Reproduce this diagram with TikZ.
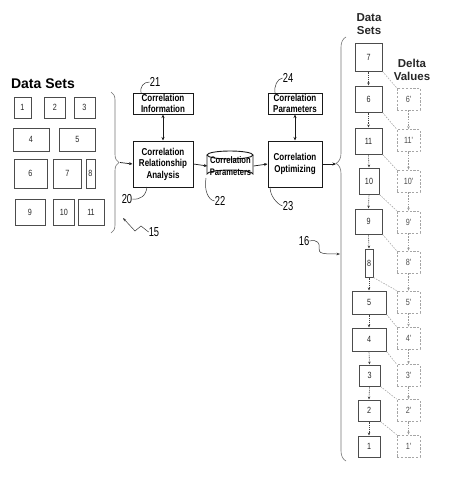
\documentclass[tikz,border=0pt]{standalone}
\usepackage{fontspec}
\setmainfont{Liberation Sans}
\newfontfamily\narfont[FakeStretch=0.72]{Liberation Sans}
\newfontfamily\digfont[FakeStretch=0.8]{Liberation Sans}
\newfontfamily\condfont[FakeStretch=0.8]{Liberation Sans}
\usetikzlibrary{decorations.pathreplacing,arrows.meta}
\tikzset{
  lset/.style={draw=black!70, line width=0.9pt, inner sep=0pt, font=\digfont\fontsize{9}{9}\selectfont, text=black!85},
  dset/.style={draw=black!70, line width=1pt, inner sep=0pt, font=\digfont\fontsize{9}{9}\selectfont, text=black!85},
  dval/.style={draw=black!35, line width=0.8pt, dash pattern=on 2.2pt off 1.6pt, inner sep=0pt, minimum width=23pt, minimum height=22pt, font=\digfont\fontsize{9}{9}\selectfont, text=black!70},
  proc/.style={draw=black!90, line width=1pt, inner sep=0pt, align=center, font=\condfont\bfseries\fontsize{10}{11.5}\selectfont},
  reflbl/.style={font=\narfont\fontsize{13}{13}\selectfont, inner sep=0pt},
  ttl/.style={font=\bfseries\fontsize{11.5}{13}\selectfont, align=center, inner sep=0pt, text=black!85},
  conn/.style={line width=0.7pt, draw=black!90, -{Stealth[length=3.5pt,width=3pt]}},
  bconn/.style={line width=0.7pt, draw=black!90, {Stealth[length=3.5pt,width=3pt]}-{Stealth[length=3.5pt,width=3pt]}},
  vconn/.style={line width=0.6pt, draw=black!75, dash pattern=on 1pt off 0.8pt, -{Stealth[length=3pt,width=2.6pt]}},
  wconn/.style={line width=0.6pt, draw=black!40, dash pattern=on 1.6pt off 1.2pt, -{Stealth[length=3pt,width=2.6pt]}},
  diag/.style={line width=0.5pt, draw=black!40, dash pattern=on 1.6pt off 1.2pt},
  lead/.style={line width=0.5pt, draw=black!80},
  bracestyle/.style={line width=0.6pt, draw=black!55, decorate}
}
\begin{document}
\begin{tikzpicture}[x=1pt,y=-1pt]
\useasboundingbox (0,0) rectangle (474,477);

% left data sets
\node[font=\bfseries\fontsize{14}{14}\selectfont, inner sep=0pt] (ltitle) at (43,84) {Data Sets};
\node[lset, minimum width=17pt, minimum height=21pt] (a1) at (22.5,107.5) {1};
\node[lset, minimum width=21pt, minimum height=21pt] (a2) at (55,107.5) {2};
\node[lset, minimum width=21pt, minimum height=21pt] (a3) at (84.5,107.5) {3};
\node[lset, minimum width=36pt, minimum height=23pt] (a4) at (31,139.5) {4};
\node[lset, minimum width=36pt, minimum height=23pt] (a5) at (77.5,139.5) {5};
\node[lset, minimum width=33pt, minimum height=29pt] (a6) at (30.5,173.5) {6};
\node[lset, minimum width=28pt, minimum height=29pt] (a7) at (67.5,173.5) {7};
\node[lset, minimum width=9pt, minimum height=29pt] (a8) at (90.5,173.5) {8};
\node[lset, minimum width=30pt, minimum height=26pt] (a9) at (30,212) {9};
\node[lset, minimum width=21pt, minimum height=26pt] (a10) at (64,212) {10};
\node[lset, minimum width=26pt, minimum height=26pt] (a11) at (91,212) {11};

% left brace
\draw[bracestyle, decoration={brace, amplitude=8pt}] (111,92) -- (111,233);
\coordinate (lb) at (120,162.5);

% process boxes
\node[proc, minimum width=60pt, minimum height=21pt] (ci) at (163,103.5) {Correlation\\Information};
\node[proc, minimum width=60pt, minimum height=46pt] (cra) at (163,164) {Correlation\\Relationship\\Analysis};
\node[proc, minimum width=54pt, minimum height=46pt] (co) at (295,164) {Correlation\\Optimizing};
\node[proc, minimum width=54pt, minimum height=21pt] (cp) at (295,103.5) {Correlation\\Parameters};

% cylinder
\draw[line width=0.9pt, draw=black!90] (207,155) -- (207,174) arc[start angle=180, end angle=360, x radius=23, y radius=4] -- (253,155);
\draw[line width=0.9pt, draw=black!90] (230,155) ellipse[x radius=23, y radius=4];
\node[inner sep=0pt, minimum width=46pt, minimum height=27pt, align=center, font=\condfont\bfseries\fontsize{9.5}{11.5}\selectfont] (cyl) at (230.5,166) {Correlation\\Parameters};

% main connectors
\draw[conn] (lb) -- (cra.west);
\draw[bconn] (cra.north) -- (ci.south);
\draw[conn] (cra.east) -- (cyl.west);
\draw[conn] (cyl.east) -- (co.west);
\draw[bconn] (co.north) -- (cp.south);
\coordinate (rb) at (336,164);
\draw[conn] (co.east) -- (rb);

% right brace
\draw[bracestyle, decoration={brace, amplitude=10pt, aspect=0.702}] (346,461) -- (346,37);

% reference labels
\node[reflbl] (l21) at (155,82) {21};
\draw[lead] (l21.west) .. controls (143,82) and (140,87) .. (141,93);
\node[reflbl] (l24) at (288,78) {24};
\draw[lead] (l24.west) .. controls (277,79) and (274,86) .. (275,93);
\node[reflbl] (l20) at (127,199) {20};
\draw[lead] (l20.east) .. controls (140,200) and (146,196) .. (147,187);
\node[reflbl] (l22) at (220,201) {22};
\draw[lead] (l22.west) .. controls (208,200) and (204,190) .. (206,178);
\node[reflbl] (l23) at (288,206) {23};
\draw[lead] (l23.west) .. controls (277,204) and (270,196) .. (270,187);
\node[reflbl] (l15) at (154,232) {15};
\coordinate (t15) at (123,218);
\draw[lead, -{Stealth[length=3.5pt,width=2.6pt]}] (l15.west) -- (141,226) -- (135,231) -- (t15);
\node[reflbl] (l16) at (304,241) {16};
\coordinate (t16) at (340,254);
\draw[lead, -{Stealth[length=3.5pt,width=2.6pt]}] (l16.east) .. controls (318,239) and (320,244) .. (319,248) .. controls (318,254) and (324,254) .. (t16);

% right column titles
\node[ttl] (rtitle) at (369,24) {Data\\Sets};
\node[ttl] (vtitle) at (412,70) {Delta\\Values};

% data sets column
\node[dset, minimum width=27pt, minimum height=28pt] (d7) at (368.5,57) {7};
\node[dset, minimum width=27pt, minimum height=26pt] (d6) at (368.5,99) {6};
\node[dset, minimum width=27pt, minimum height=26pt] (d11) at (368.5,141) {11};
\node[dset, minimum width=20pt, minimum height=26pt] (d10) at (369,181) {10};
\node[dset, minimum width=27pt, minimum height=25pt] (d9) at (368.5,221.5) {9};
\node[dset, minimum width=8pt, minimum height=28pt] (d8) at (369,263) {8};
\node[dset, minimum width=34pt, minimum height=23pt] (d5) at (369,302.5) {5};
\node[dset, minimum width=34pt, minimum height=23pt] (d4) at (369,339.5) {4};
\node[dset, minimum width=21pt, minimum height=21pt] (d3) at (369.5,375.5) {3};
\node[dset, minimum width=22pt, minimum height=21pt] (d2) at (369,410.5) {2};
\node[dset, minimum width=22pt, minimum height=21pt] (d1) at (369,446.5) {1};

% delta values column
\node[dval] (v6) at (408.5,99) {6'};
\node[dval] (v11) at (408.5,140.5) {11'};
\node[dval] (v10) at (408.5,181) {10'};
\node[dval] (v9) at (408.5,222) {9'};
\node[dval] (v8) at (408.5,262) {8'};
\node[dval] (v5) at (408.5,302) {5'};
\node[dval] (v4) at (408.5,338) {4'};
\node[dval] (v3) at (408.5,375.5) {3'};
\node[dval] (v2) at (408.5,410.5) {2'};
\node[dval] (v1) at (408.5,446) {1'};

% vertical connectors
\foreach \p/\q in {d7/d6, d6/d11, d11/d10, d10/d9, d9/d8, d8/d5, d5/d4, d4/d3, d3/d2, d2/d1}
  \draw[vconn] (\p.south) -- (\q.north);
\foreach \p/\q in {v6/v11, v11/v10, v10/v9, v9/v8, v8/v5, v5/v4, v4/v3, v3/v2, v2/v1}
  \draw[wconn] (\p.south) -- (\q.north);

% diagonal connectors
\foreach \p/\q in {d7/v6, d6/v11, d11/v10, d10/v9, d9/v8, d8/v5, d5/v4, d4/v3, d3/v2, d2/v1}
  \draw[diag] (\p.south east) -- (\q.north west);
\end{tikzpicture}
\end{document}
